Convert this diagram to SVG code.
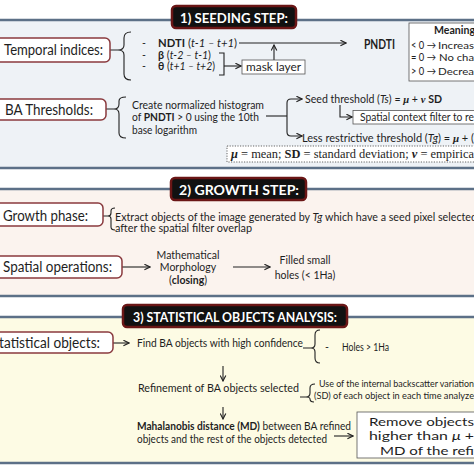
<svg xmlns="http://www.w3.org/2000/svg" width="474" height="474" viewBox="0 0 474 474">
<defs>
<style>
text{font-family:Lato,"Liberation Sans",sans-serif;fill:#1e1e1e}
.sep{stroke:#5c7087;stroke-width:2.4}
.lbl rect{fill:#111;stroke:#6a1616;stroke-width:2.5}
.lbl text{fill:#fff;font-weight:bold;font-size:14px}
.nb{fill:#fff;stroke:#8a3a3e;stroke-width:1.5}
.big{font-size:14.5px}
.t11{font-size:11px}
.t10{font-size:10.5px}
.t9{font-size:9.5px}
.ln{fill:none;stroke:#222;stroke-width:1.1}
.ar{marker-end:url(#ah)}
.thin{fill:#fff;stroke:#555;stroke-width:0.8}
.dot{fill:#fff;stroke:#555;stroke-width:0.9;stroke-dasharray:1.2 1.4}
.b{font-weight:bold}
.i{font-style:italic}
.serif{font-family:"Liberation Serif","DejaVu Serif",serif}
</style>
<marker id="ah" viewBox="0 0 10 10" refX="9" refY="5" markerWidth="7" markerHeight="7" orient="auto" markerUnits="userSpaceOnUse">
<path d="M1,1 L9,5 L1,9" fill="none" stroke="#222" stroke-width="1.6"/>
</marker>
</defs>

<!-- section backgrounds -->
<rect x="0" y="20" width="474" height="148" fill="#eef2f6"/>
<rect x="0" y="189" width="474" height="107" fill="#fbf3ee"/>
<rect x="0" y="317" width="474" height="146" fill="#fdfbe4"/>
<line class="sep" x1="0" y1="20" x2="474" y2="20"/>
<line class="sep" x1="0" y1="168" x2="474" y2="168"/>
<line class="sep" x1="0" y1="189" x2="474" y2="189"/>
<line class="sep" x1="0" y1="296" x2="474" y2="296"/>
<line class="sep" x1="0" y1="317" x2="474" y2="317"/>
<line class="sep" x1="0" y1="463" x2="474" y2="463"/>

<g id="connectors">
<!-- section 1 -->
<path class="ln" d="M110,50 H118 Q124,50 124,45 V38 Q124,32 131,32 M118,50 Q124,50 124,55 V74 Q124,80 131,80"/>
<path class="ln ar" d="M239,43 H346"/>
<path class="ln" d="M219,53 H224 V75 H219"/>
<path class="ln ar" d="M224,66 H241"/>
<path class="ln ar" d="M274,60 V45"/>
<path class="ln" d="M106,109 H114 Q119,109 119,104 V101 Q119,97 126,97 M114,109 Q119,109 119,114 V133 Q119,138 126,138"/>
<path class="ln" d="M266,116 H287"/>
<path class="ln ar" d="M287,116 V103 Q287,99 291,99 H302"/>
<path class="ln ar" d="M287,116 V132 Q287,136 291,136 H302"/>
<path class="ln ar" d="M340,105 V117 H352"/>
<!-- section 2 -->
<path class="ln" d="M103,216 H108 Q111,216 111,213 V211 Q111,208 115,208 M108,216 Q111,216 111,219 V227 Q111,230 115,230"/>
<path class="ln ar" d="M122,267 H150"/>
<path class="ln ar" d="M233,267 H270"/>
<!-- section 3 -->
<path class="ln ar" d="M113,343 H129"/>
<path class="ln" d="M303,348 H311 Q315,348 315,344 V335 Q315,330 320,330 M311,348 Q315,348 315,352 V358 Q315,363 320,363"/>
<path class="ln ar" d="M223,366 V381"/>
<path class="ln" d="M300,397 H306 Q310,397 310,393 V388 Q310,384 315,384 M306,397 Q310,397 310,399 Q310,402 314,402"/>
<path class="ln ar" d="M223,407 V419"/>
<path class="ln ar" d="M334,436 H353"/>
</g>

<!-- Section 1 -->
<g id="hdr1" class="lbl"><rect x="172" y="6" width="124" height="22" rx="4"/><text x="180" y="22.5" textLength="108" lengthAdjust="spacingAndGlyphs">1) SEEDING STEP:</text></g>

<g id="temporal"><rect class="nb" x="-4" y="38" width="114" height="24" rx="5"/><text class="big" x="4" y="55" textLength="99" lengthAdjust="spacingAndGlyphs">Temporal indices:</text></g>

<g id="indices" class="t10">
<text x="142" y="47">-</text>
<text x="158" y="47" textLength="79" lengthAdjust="spacingAndGlyphs"><tspan class="b">NDTI</tspan> (<tspan class="i">t-1 – t+1</tspan>)</text>
<text x="142" y="59">-</text>
<text x="158" y="59" textLength="53" lengthAdjust="spacingAndGlyphs"><tspan class="b">β</tspan> (<tspan class="i">t-2 – t-1</tspan>)</text>
<text x="142" y="70">-</text>
<text x="158" y="70" textLength="57" lengthAdjust="spacingAndGlyphs"><tspan class="b">θ</tspan> (<tspan class="i">t+1 – t+2</tspan>)</text>
</g>

<g id="mask"><rect class="thin" x="242" y="60" width="63" height="14"/><text x="273.5" y="71" text-anchor="middle" font-size="10.5" textLength="55" lengthAdjust="spacingAndGlyphs">mask layer</text></g>

<g id="pndti"><text x="364" y="49" class="b" font-size="12.5" textLength="31" lengthAdjust="spacingAndGlyphs">PNDTI</text></g>

<g id="meaning">
<rect class="thin" x="409" y="23" width="70" height="58"/>
<text x="434" y="34" class="b" font-size="10.5" textLength="41" lengthAdjust="spacingAndGlyphs">Meaning</text>
<text x="411" y="49" font-size="10.5" textLength="25" lengthAdjust="spacingAndGlyphs">&lt; 0 →</text>
<text x="438" y="49" font-size="8.5" textLength="36" lengthAdjust="spacingAndGlyphs">Increas</text>
<text x="411" y="61" font-size="10.5" textLength="25" lengthAdjust="spacingAndGlyphs">= 0 →</text>
<text x="439" y="61" font-size="8.5" textLength="35" lengthAdjust="spacingAndGlyphs">No cha</text>
<text x="411" y="74.5" font-size="10.5" textLength="25" lengthAdjust="spacingAndGlyphs">&gt; 0 →</text>
<text x="438" y="74.5" font-size="8.5" textLength="36" lengthAdjust="spacingAndGlyphs">Decrea</text>
</g>

<g id="ba"><rect class="nb" x="-4" y="99" width="110" height="21" rx="5"/><text class="big" x="5" y="114.5" textLength="88" lengthAdjust="spacingAndGlyphs">BA Thresholds:</text></g>

<g id="histogram" class="t11">
<text x="132" y="109" textLength="132" lengthAdjust="spacingAndGlyphs">Create normalized histogram</text>
<text x="132" y="121" textLength="127" lengthAdjust="spacingAndGlyphs">of <tspan class="b">PNDTI</tspan> &gt; 0 using the 10th</text>
<text x="132" y="134" textLength="65" lengthAdjust="spacingAndGlyphs">base logarithm</text>
</g>

<g id="seed"><text x="305" y="103" class="t11" textLength="137" lengthAdjust="spacingAndGlyphs">Seed threshold (<tspan class="i">Ts</tspan>) = <tspan class="serif b i">μ</tspan> + <tspan class="serif b i">ν</tspan> <tspan class="b">SD</tspan></text></g>

<g id="spatialctx"><rect class="thin" x="353" y="110.5" width="130" height="13.5"/><text x="360" y="120.5" class="t11" textLength="114" lengthAdjust="spacingAndGlyphs">Spatial context filter to re</text></g>

<g id="less"><text x="302" y="142" class="t11" textLength="172" lengthAdjust="spacingAndGlyphs">Less restrictive threshold (<tspan class="i">Tg</tspan>) = <tspan class="serif b i">μ</tspan> + (</text></g>

<g id="legend"><rect class="dot" x="227" y="146" width="252" height="16"/><text x="231" y="157.5" class="serif" font-size="11.5" textLength="243" lengthAdjust="spacingAndGlyphs"><tspan class="b i">μ</tspan> = mean; <tspan class="b">SD</tspan> = standard deviation;  <tspan class="b i">ν</tspan> = empirica</text></g>

<!-- Section 2 -->
<g id="hdr2" class="lbl"><rect x="171" y="178" width="135" height="22" rx="4"/><text x="179" y="194.5" textLength="120" lengthAdjust="spacingAndGlyphs">2) GROWTH STEP:</text></g>

<g id="growth"><rect class="nb" x="-4" y="203" width="107" height="23" rx="5"/><text class="big" x="3" y="221" textLength="85" lengthAdjust="spacingAndGlyphs">Growth phase:</text></g>

<g id="extract" class="t10">
<text x="115" y="221" textLength="362" lengthAdjust="spacingAndGlyphs">Extract objects of the image generated by <tspan class="i">Tg</tspan> which have a seed pixel selected</text>
<text x="115" y="232" textLength="137" lengthAdjust="spacingAndGlyphs">after the spatial filter overlap</text>
</g>

<g id="spatialops"><rect class="nb" x="-4" y="256" width="126" height="22" rx="5"/><text class="big" x="3" y="272" textLength="109" lengthAdjust="spacingAndGlyphs">Spatial operations:</text></g>

<g id="morph" class="t10" text-anchor="middle">
<text x="188" y="259">Mathematical</text>
<text x="188" y="271">Morphology</text>
<text x="188" y="284">(<tspan class="b">closing</tspan>)</text>
</g>

<g id="filled" class="t10" text-anchor="middle">
<text x="305" y="264">Filled small</text>
<text x="305" y="279">holes (&lt; 1Ha)</text>
</g>

<!-- Section 3 -->
<g id="hdr3" class="lbl"><rect x="123" y="305" width="224" height="22" rx="4"/><text x="133" y="321.5" textLength="204" lengthAdjust="spacingAndGlyphs">3) STATISTICAL OBJECTS ANALYSIS:</text></g>

<g id="statobj"><rect class="nb" x="-4" y="332" width="117" height="21" rx="5"/><text class="big" x="-8" y="348" textLength="108" lengthAdjust="spacingAndGlyphs">Statistical objects:</text></g>

<g id="find"><text x="137" y="347" class="t11" textLength="166" lengthAdjust="spacingAndGlyphs">Find BA objects with high confidence</text></g>

<g id="holes" class="t10"><text x="325" y="351">-</text><text x="342" y="351" textLength="47" lengthAdjust="spacingAndGlyphs">Holes &gt; 1Ha</text></g>

<g id="refine"><text x="138" y="392" class="t11" textLength="161" lengthAdjust="spacingAndGlyphs">Refinement of BA objects selected</text></g>

<g id="backscatter" class="t9">
<text x="319" y="387" textLength="155" lengthAdjust="spacingAndGlyphs">Use of the internal backscatter variation</text>
<text x="314" y="399" textLength="160" lengthAdjust="spacingAndGlyphs">(SD) of each object in each time analyze</text>
</g>

<g id="mahal" class="t11">
<text x="137" y="430" textLength="214" lengthAdjust="spacingAndGlyphs"><tspan class="b">Mahalanobis distance (MD)</tspan> between BA refined</text>
<text x="137" y="442.5" textLength="190" lengthAdjust="spacingAndGlyphs">objects and the rest of the objects detected</text>
</g>

<g id="remove" class="t11">
<rect class="thin" x="357" y="412" width="125" height="46"/>
<text x="369" y="425.5" textLength="105" lengthAdjust="spacingAndGlyphs">Remove objects</text>
<text x="369" y="440" textLength="105" lengthAdjust="spacingAndGlyphs">higher than <tspan class="i">μ</tspan> +</text>
<text x="380" y="455" textLength="94" lengthAdjust="spacingAndGlyphs">MD of the refi</text>
</g>
</svg>
